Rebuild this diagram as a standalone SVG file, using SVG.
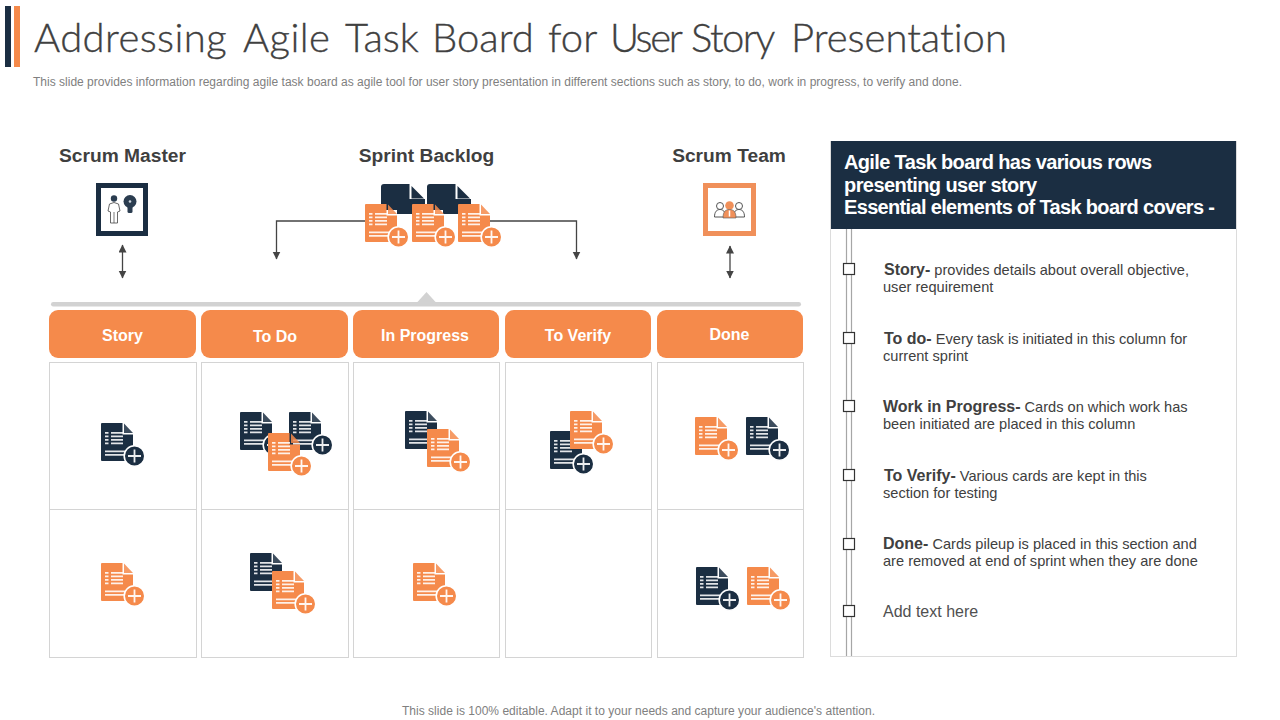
<svg xmlns="http://www.w3.org/2000/svg" width="1280" height="720" viewBox="0 0 1280 720">
<style>
text{font-family:"Liberation Sans",Arial,sans-serif}
.navy{color:#1b2e42}
.org{color:#f58a4b}
.cell{fill:#fff;stroke:#d4d4d4;stroke-width:1}
.pill{fill:#f58a4b}
.pt{font-size:16px;font-weight:700;fill:#fff;text-anchor:middle}
.hd{font-size:19.2px;font-weight:700;fill:#3f3f3f;text-anchor:middle}
.body{font-size:14.6px;fill:#404040}
.body tspan.b{font-size:16px;font-weight:700}
.ht{font-size:20px;font-weight:700;fill:#fff}
.cb{fill:#fff;stroke:#333;stroke-width:1.2}
.conn{fill:none;stroke:#444;stroke-width:1.3}
.big{fill:#1b2e42}
</style>
<defs>
<marker id="ah" markerWidth="9" markerHeight="9" refX="7.5" refY="4" orient="auto-start-reverse" markerUnits="userSpaceOnUse"><path d="M0 0L8 4L0 8Z" fill="#444"/></marker>
<g id="doc">
<path d="M1 0H21.500V11.500H32V37a1 1 0 0 1-1 1H1a1 1 0 0 1-1-1V1a1 1 0 0 1 1-1Z" fill="currentColor"/>
<path d="M23 0.500L32 10H23Z" fill="currentColor" fill-opacity="0.85"/>
<path d="M4 9h3.500v1.800h-3.500zM10 9h12v1.800h-12zM4 12.500h3.500v1.800h-3.500zM10 12.500h12v1.800h-12zM4 16h3.500v1.800h-3.500zM10 16h12v1.800h-12zM4 19.500h3.500v1.800h-3.500zM10 19.500h12v1.800h-12zM4 27.500h20v1.700h-20zM4 31h20v1.700h-20z" fill="#fff" fill-opacity="0.88"/>
<circle cx="33.500" cy="33" r="10.300" fill="currentColor" stroke="#fff" stroke-width="1.600"/>
<path d="M27 33h13M33.500 26.500v13" stroke="#fff" stroke-width="1.800" fill="none" stroke-opacity="0.92"/>
</g>
<g id="wide">
<path d="M3 0H28.500V15H44V26H36V30H16V26H4L0 22V3a3 3 0 0 1 3-3Z" class="big"/>
<path d="M30.500 2L43 14.500H30.500Z" class="big"/>
</g>
</defs>

<g id="title">
<rect x="5" y="6" width="6" height="61" fill="#1b2e42"/>
<rect x="14" y="6" width="6" height="61" fill="#f58a4b"/>
<text y="52" font-size="40" fill="#404040" stroke="#404040" stroke-width="0.35" style='font-family:"Lato","Liberation Sans",sans-serif;font-weight:300;font-variant-ligatures:none'><tspan x="34" letter-spacing="0.4">Addressing</tspan> <tspan x="243" letter-spacing="0.4">Agile</tspan> <tspan x="345">Task</tspan> <tspan x="432">Board</tspan> <tspan x="548">for</tspan> <tspan x="610" letter-spacing="-2.4">User</tspan> <tspan x="691" letter-spacing="-1.6">Story</tspan> <tspan x="791">Presentation</tspan></text>
<text x="33" y="86" font-size="12" textLength="929" lengthAdjust="spacing" fill="#808080">This slide provides information regarding agile task board as agile tool for user story presentation in different sections such as story, to do, work in progress, to verify and done.</text>
</g>

<g id="connectors">
<path class="conn" d="M122.500 245V278" marker-start="url(#ah)" marker-end="url(#ah)"/>
<path class="conn" d="M730 246V278" marker-start="url(#ah)" marker-end="url(#ah)"/>
<path class="conn" d="M365 221H276.500V259" marker-end="url(#ah)"/>
<path class="conn" d="M490 221H576.500V259" marker-end="url(#ah)"/>
</g>

<g id="scrum-master">
<text class="hd" x="122.500" y="162">Scrum Master</text>
<rect x="98.500" y="185.500" width="47" height="48" fill="#fff" stroke="#1b2e42" stroke-width="5"/>
<circle cx="114" cy="198.500" r="3.200" fill="#2b3d50"/>
<path d="M109.500 204l4.500-1.500 4.500 1.500 1.500 7-2.500 1v11h-7v-11l-2.500-1Z" fill="#fff" stroke="#444" stroke-width="0.8"/>
<path d="M114 212v11" stroke="#444" stroke-width="0.7"/>
<circle cx="130" cy="201.500" r="6.500" fill="#2b3d50"/>
<rect x="127.500" y="206" width="5" height="7" rx="1.500" fill="#2b3d50"/>
<circle cx="130" cy="201.500" r="1.300" fill="#cfd8e0"/>
</g>

<g id="sprint-backlog">
<text class="hd" x="426.500" y="162">Sprint Backlog</text>
<use href="#wide" x="381" y="184"/>
<use href="#wide" x="427" y="184"/>
<use href="#doc" x="365" y="204" class="org"/>
<use href="#doc" x="412" y="204" class="org"/>
<use href="#doc" x="458" y="204" class="org"/>
</g>

<g id="scrum-team">
<text class="hd" x="729" y="162">Scrum Team</text>
<rect x="705.500" y="185.500" width="48" height="48" fill="#fff" stroke="#f0905a" stroke-width="5"/>
<circle cx="720" cy="206" r="3.500" fill="#fff" stroke="#555"/>
<path d="M714.500 217c0-5.500 2.500-7.500 5.500-7.500s5.500 2 5.500 7.500Z" fill="#fff" stroke="#555"/>
<circle cx="739" cy="206" r="3.500" fill="#fff" stroke="#555"/>
<path d="M733.500 217c0-5.500 2.500-7.500 5.500-7.500s5.500 2 5.500 7.500Z" fill="#fff" stroke="#555"/>
<circle cx="729.500" cy="205.500" r="4.300" fill="#f0905a"/>
<path d="M723 218c0-6.500 2.500-8.500 6.500-8.500s6.500 2 6.500 8.500Z" fill="#f0905a" stroke="#555" stroke-width="0.6"/>
<path d="M729.500 210.500v6" stroke="#fff" stroke-width="1.500"/>
</g>

<g id="divider">
<rect x="51" y="302" width="750" height="4.500" rx="2.200" fill="#d2d2d2"/>
<path d="M417 302.500L426.500 292L436 302.500Z" fill="#d2d2d2"/>
</g>

<g id="col-story"><rect class="pill" x="49" y="310" width="147" height="48" rx="9"/><text class="pt" x="122.500" y="341">Story</text></g>
<g id="col-todo"><rect class="pill" x="201" y="310" width="147" height="48" rx="9"/><text class="pt" x="275" y="342">To Do</text></g>
<g id="col-progress"><rect class="pill" x="353" y="310" width="146" height="48" rx="9"/><text class="pt" x="425" y="341">In Progress</text></g>
<g id="col-verify"><rect class="pill" x="505" y="310" width="146" height="48" rx="9"/><text class="pt" x="578" y="341">To Verify</text></g>
<g id="col-done"><rect class="pill" x="657" y="310" width="146" height="48" rx="9"/><text class="pt" x="729.500" y="340">Done</text></g>

<g id="board">
<rect class="cell" x="49.500" y="362.500" width="147" height="147"/>
<rect class="cell" x="201.500" y="362.500" width="147" height="147"/>
<rect class="cell" x="353.500" y="362.500" width="146" height="147"/>
<rect class="cell" x="505.500" y="362.500" width="146" height="147"/>
<rect class="cell" x="657.500" y="362.500" width="146" height="147"/>
<rect class="cell" x="49.500" y="509.500" width="147" height="148"/>
<rect class="cell" x="201.500" y="509.500" width="147" height="148"/>
<rect class="cell" x="353.500" y="509.500" width="146" height="148"/>
<rect class="cell" x="505.500" y="509.500" width="146" height="148"/>
<rect class="cell" x="657.500" y="509.500" width="146" height="148"/>
</g>

<g id="cards">
<use href="#doc" x="101" y="423" class="navy"/>
<use href="#doc" x="240" y="412" class="navy"/>
<use href="#doc" x="289" y="412" class="navy"/>
<use href="#doc" x="268" y="433" class="org"/>
<use href="#doc" x="405" y="411" class="navy"/>
<use href="#doc" x="427" y="429" class="org"/>
<use href="#doc" x="550" y="431" class="navy"/>
<use href="#doc" x="570" y="411" class="org"/>
<use href="#doc" x="695" y="417" class="org"/>
<use href="#doc" x="746" y="417" class="navy"/>
<use href="#doc" x="101" y="563" class="org"/>
<use href="#doc" x="250" y="553" class="navy"/>
<use href="#doc" x="272" y="571" class="org"/>
<use href="#doc" x="413" y="563" class="org"/>
<use href="#doc" x="696" y="567" class="navy"/>
<use href="#doc" x="747" y="567" class="org"/>
</g>

<g id="panel">
<rect x="830.500" y="141.500" width="406" height="515" fill="#fff" stroke="#dcdcdc"/>
<rect x="831" y="141" width="405" height="88" fill="#1b2e42"/>
<text class="ht" x="844" y="169" textLength="308" lengthAdjust="spacing">Agile Task board has various rows</text>
<text class="ht" x="844" y="192" textLength="193" lengthAdjust="spacing">presenting user story</text>
<text class="ht" x="844" y="214" textLength="371" lengthAdjust="spacing">Essential elements of Task board covers -</text>
<path d="M846.500 229V656M851.500 229V656" stroke="#a6a6a6" stroke-width="1.200" fill="none"/>
</g>

<g id="item-story"><rect class="cb" x="843.500" y="263.500" width="11" height="11"/>
<text class="body" x="884" y="275"><tspan class="b">Story-</tspan> provides details about overall objective,</text>
<text class="body" x="883" y="292">user requirement</text></g>
<g id="item-todo"><rect class="cb" x="843.500" y="332.500" width="11" height="11"/>
<text class="body" x="884" y="344"><tspan class="b">To do-</tspan> Every task is initiated in this column for</text>
<text class="body" x="883" y="361">current sprint</text></g>
<g id="item-progress"><rect class="cb" x="843.500" y="400.500" width="11" height="11"/>
<text class="body" x="883" y="412"><tspan class="b">Work in Progress-</tspan> Cards on which work has</text>
<text class="body" x="883" y="429">been initiated are placed in this column</text></g>
<g id="item-verify"><rect class="cb" x="843.500" y="469.500" width="11" height="11"/>
<text class="body" x="884" y="481"><tspan class="b">To Verify-</tspan> Various cards are kept in this</text>
<text class="body" x="883" y="498">section for testing</text></g>
<g id="item-done"><rect class="cb" x="843.500" y="538.500" width="11" height="11"/>
<text class="body" x="883" y="549"><tspan class="b">Done-</tspan> Cards pileup is placed in this section and</text>
<text class="body" x="883" y="566">are removed at end of sprint when they are done</text></g>
<g id="item-add"><rect class="cb" x="843.500" y="605.500" width="11" height="11"/>
<text class="body" x="883" y="617" style="font-size:16px;fill:#505050">Add text here</text></g>

<text x="402" y="715" font-size="12" textLength="473" lengthAdjust="spacing" fill="#808080">This slide is 100% editable. Adapt it to your needs and capture your audience's attention.</text>
</svg>
